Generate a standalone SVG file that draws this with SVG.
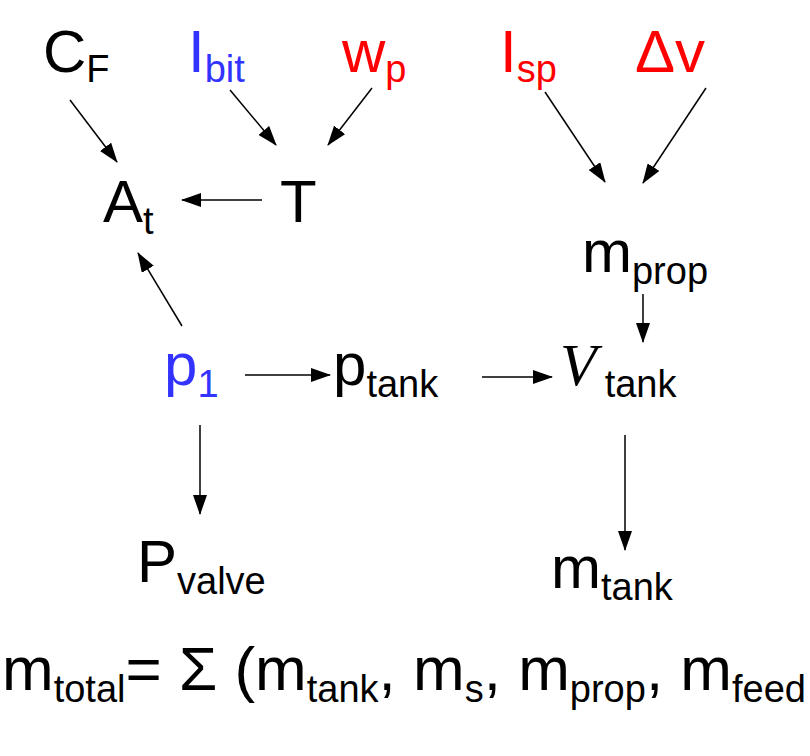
<svg xmlns="http://www.w3.org/2000/svg" width="810" height="756" viewBox="0 0 810 756">
<style>
text{font-family:"Liberation Sans",Arial,sans-serif;font-size:60px;fill:#000}
.s{font-size:38px}
.b{fill:#3333ff}
.r{fill:#ff0000}
line{stroke:#000;stroke-width:1.5}
</style>
<defs><marker id="a" markerWidth="20" markerHeight="14" refX="19" refY="7" orient="auto" markerUnits="userSpaceOnUse"><path d="M0,0 L20,7 L0,14 Z" fill="#000"/></marker></defs>
<rect width="810" height="756" fill="#fff"/>
<g id="CF"><text x="43" y="72">C<tspan class="s" dy="10">F</tspan></text></g>
<g id="Ibit"><text x="188" y="72" class="b">I<tspan class="s b" dy="10">bit</tspan></text></g>
<g id="wp"><text x="342" y="72" class="r">w<tspan class="s r" dy="10">p</tspan></text></g>
<g id="Isp"><text x="500" y="72" class="r">I<tspan class="s r" dy="10">sp</tspan></text></g>
<g id="dv"><text x="635" y="72" class="r">Δv</text></g>
<g id="At"><text x="103" y="222">A<tspan class="s" dy="12">t</tspan></text></g>
<g id="T"><text x="280" y="222">T</text></g>
<g id="mprop"><text x="582" y="272">m<tspan class="s" dy="12">prop</tspan></text></g>
<g id="p1"><text x="164" y="385" class="b">p<tspan class="s b" dy="12">1</tspan></text></g>
<g id="ptank"><text x="333" y="385">p<tspan class="s" dy="12">tank</tspan></text></g>
<g id="Vtank"><text x="560" y="385"><tspan style="font-family:'Liberation Serif',serif;font-style:italic">V</tspan><tspan class="s" dy="12" dx="8">tank</tspan></text></g>
<g id="Pvalve"><text x="137" y="582">P<tspan class="s" dy="12">valve</tspan></text></g>
<g id="mtank"><text x="551" y="588">m<tspan class="s" dy="12">tank</tspan></text></g>
<g id="total"><text x="2" y="690" style="font-size:62px">m<tspan class="s" dy="12">total</tspan><tspan dy="-12" style="font-size:62px">= Σ (m</tspan><tspan class="s" dy="12">tank</tspan><tspan dy="-12" style="font-size:62px">, m</tspan><tspan class="s" dy="12">s</tspan><tspan dy="-12" style="font-size:62px">, m</tspan><tspan class="s" dy="12">prop</tspan><tspan dy="-12" style="font-size:62px">, m</tspan><tspan class="s" dy="12">feed</tspan></text></g>
<g id="connectors" marker-end="url(#a)">
<line x1="70" y1="100" x2="117" y2="162"/>
<line x1="230" y1="90" x2="276" y2="145"/>
<line x1="372" y1="88" x2="328" y2="145"/>
<line x1="262" y1="200" x2="182" y2="200"/>
<line x1="545" y1="92" x2="605" y2="182"/>
<line x1="706" y1="88" x2="643" y2="183"/>
<line x1="182" y1="326" x2="138" y2="253"/>
<line x1="643" y1="294" x2="643" y2="342"/>
<line x1="245" y1="375" x2="330" y2="375"/>
<line x1="482" y1="377" x2="552" y2="377"/>
<line x1="200" y1="425" x2="200" y2="514"/>
<line x1="625" y1="435" x2="625" y2="550"/>
</g>
</svg>
